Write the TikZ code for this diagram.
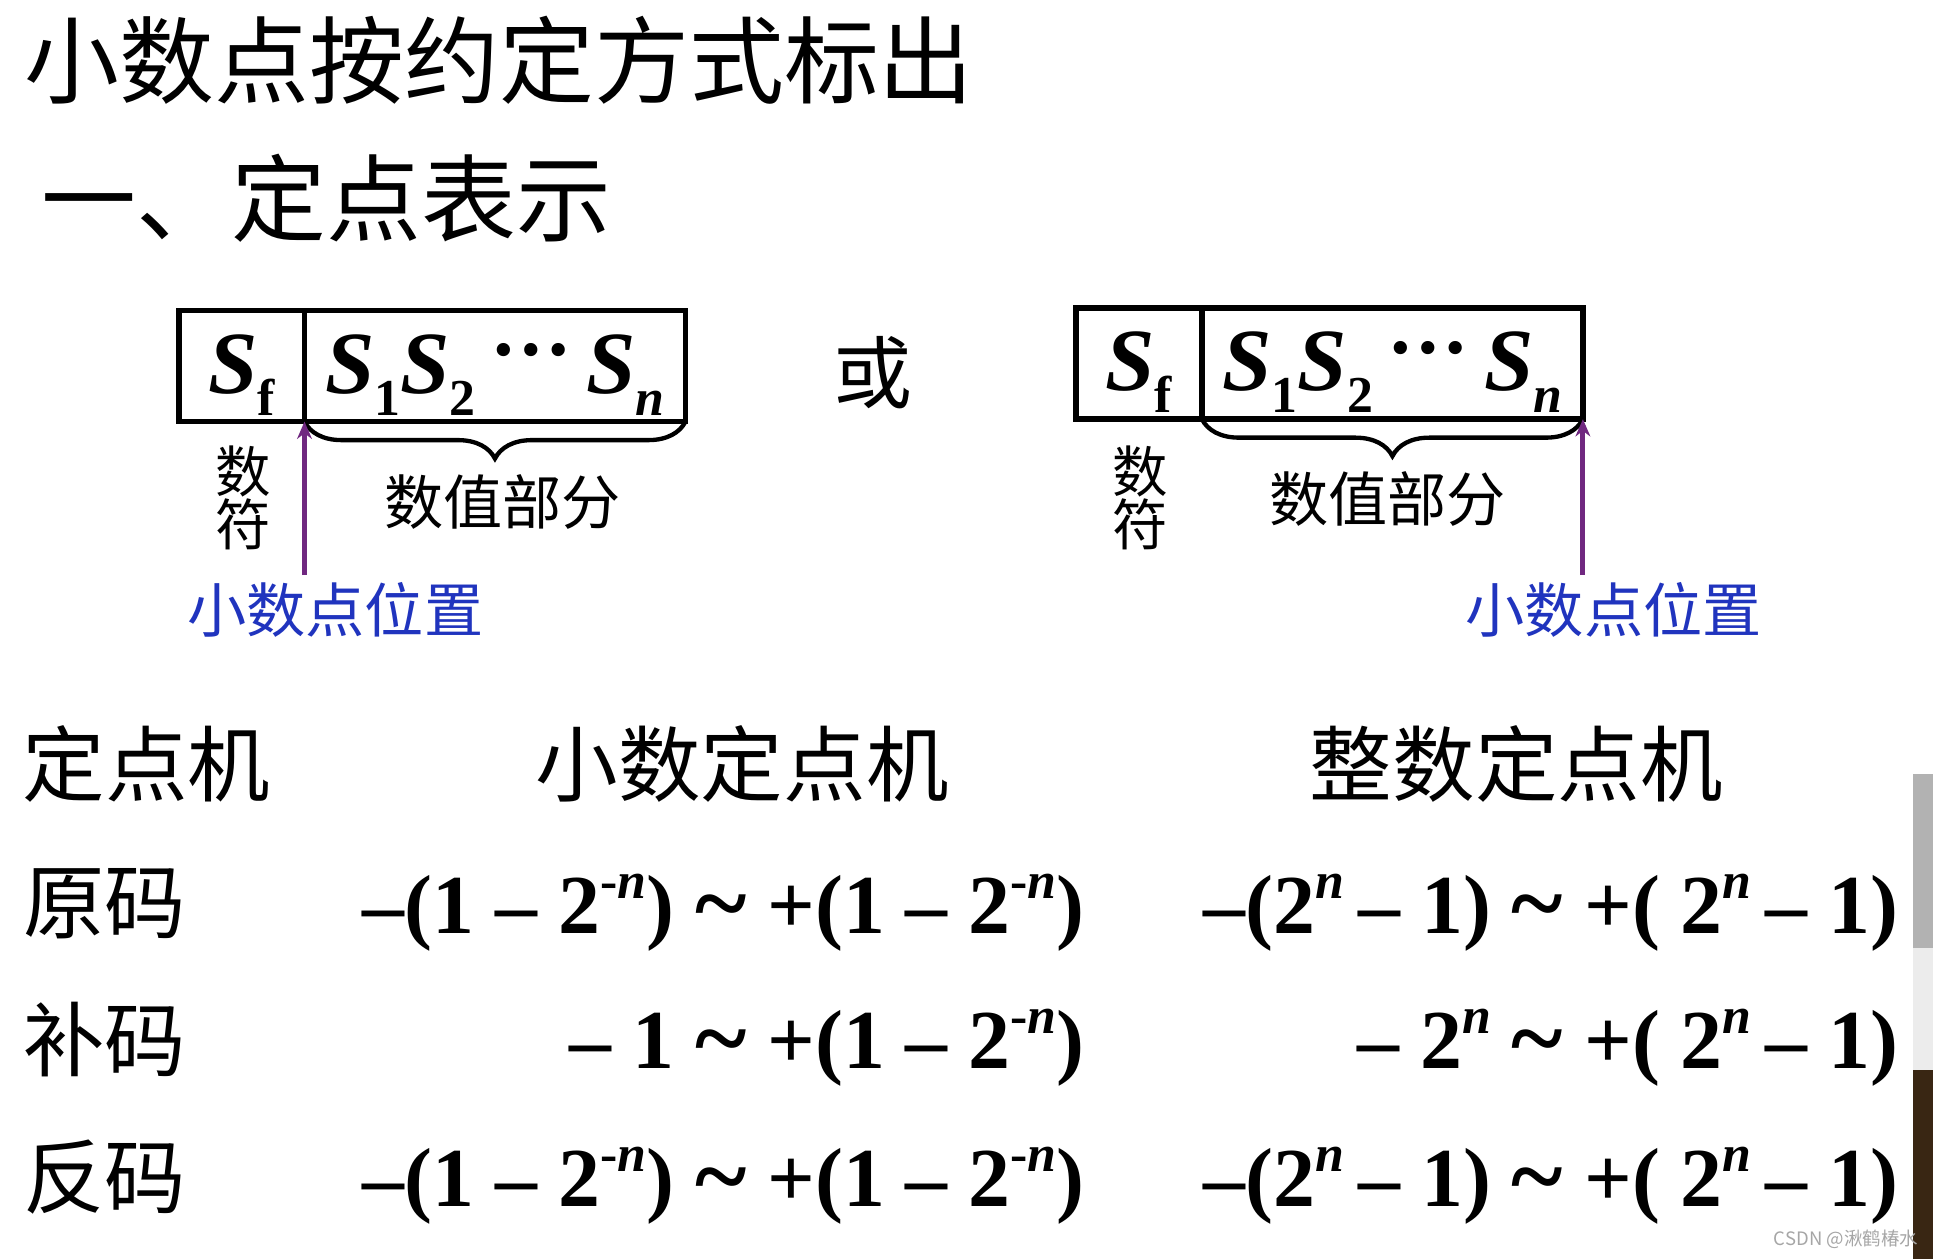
\documentclass[tikz,border=0pt]{standalone}
\usepackage{fontspec}
\setmainfont{Liberation Serif}
\newfontfamily\cjk{Noto Sans CJK SC}
\usetikzlibrary{arrows.meta,decorations.pathreplacing}

\definecolor{ptpurple}{RGB}{112,40,128}
\definecolor{ptblue}{RGB}{32,52,190}

\newcommand{\fs}[1]{\fontsize{#1}{#1}\selectfont}
% bold italic S with an upright subscript
\newcommand{\bS}[1]{\textbf{\textit{S}}\raisebox{-0.25em}{\fs{42}\textbf{#1}}}
% raised exponent in the ranges
\newcommand{\up}[1]{\raisebox{0.42em}{\fs{42}#1}}
\newcommand{\dts}{\raisebox{0.42em}{\fs{66}\textbf{\dots}}}
\newcommand{\tld}{{\fs{80}\raisebox{-0.03em}{\textasciitilde}}}

\tikzset{
  cell/.style={draw, line width=4.5pt, inner sep=0pt, outer sep=0pt, anchor=north west,
    minimum height=90pt, text height=44pt, text depth=0pt, font=\fs{72}},
  brc/.style={decorate, decoration={brace, mirror, amplitude=30pt}, line width=3.5pt},
  cn/.style={inner sep=0pt, font=\cjk\fs{#1}},
  rng/.style={inner sep=0pt, anchor=base east, font=\fs{68}\bfseries},
  ptr/.style={-{Stealth[length=14pt,width=12pt]}, line width=4pt, ptpurple, shorten <=6pt},
}

\begin{document}
\begin{tikzpicture}[x=1pt,y=-1pt]
  \useasboundingbox (0,0) rectangle (1568,1021);

  \node[cn=77] (title) at (405,49) {小数点按约定方式标出};
  \node[cn=77] (sec) at (265,161) {一、定点表示};
  \node[cn=64] (or) at (708,302) {或};

  % the two layouts of a fixed point word
  \foreach \g/\x/\y/\s/\tip in {A/145/252/6/sfA.south east, B/873/250/-4/numB.south east} {
    \node[cell, minimum width=102pt] (sf\g) at (\x,\y) {\bS{f}};
    \node[cell, minimum width=309pt] (num\g) at (sf\g.north east) {\bS{1}\bS{2}\,\dts\,\bS{\textit{n}}};
    \draw[brc] (num\g.south west) -- (num\g.south east);
    \node[cn=45, align=center] (sign\g) at (\x+52,404) {数\\[-2pt]符};
    \node[cn=48] (val\g) at ([xshift=\s pt, yshift=-65pt]num\g.south) {数值部分};
    \node[cn=48, text=ptblue] (pos\g) at ([xshift=25pt]\tip |- 0,495) {小数点位置};
    \draw[ptr] (\tip |- pos\g.north) -- (\tip);
  }

  % ranges
  \node[cn=67] (hd) at (119,620) {定点机};
  \node[cn=67] (hfrac) at (602,620) {小数定点机};
  \node[cn=67] (hint) at (1230,620) {整数定点机};
  \foreach \code/\y/\fr/\it in {
      原码/757/{–(1 – 2\up{-\textit{n}}) \tld\ +(1 – 2\up{-\textit{n}})}/{–(2\up{\textit{n}}\,– 1) \tld\ +( 2\up{\textit{n}}\,– 1)},
      补码/867/{– 1 \tld\ +(1 – 2\up{-\textit{n}})}/{– 2\up{\textit{n}} \tld\ +( 2\up{\textit{n}}\,– 1)},
      反码/979/{–(1 – 2\up{-\textit{n}}) \tld\ +(1 – 2\up{-\textit{n}})}/{–(2\up{\textit{n}}\,– 1) \tld\ +( 2\up{\textit{n}}\,– 1)}} {
    \node[cn=66] (c\y) at (85,\y-24) {\code};
    \node[rng] (f\y) at (880,\y) {\fr};
    \node[rng] (i\y) at (1540,\y) {\it};
  }

  % edge of the screen and watermark
  \fill[gray!60] (1552,628) rectangle (1568,769);
  \fill[gray!15] (1552,769) rectangle (1568,868);
  \fill[black!70!brown] (1552,868) rectangle (1568,1021);
  \node[cn=15, text=gray!70, anchor=east] (wm) at (1556,1005) {CSDN @湫鹤椿水};
\end{tikzpicture}
\end{document}
